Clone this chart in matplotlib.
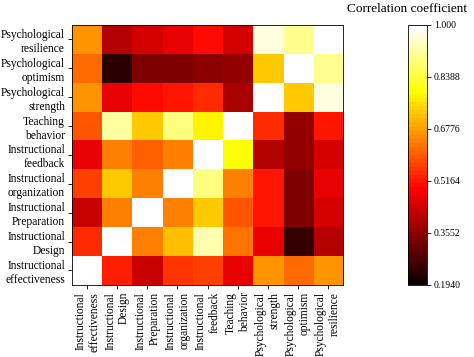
import numpy as np
import matplotlib
matplotlib.use('Agg')
import matplotlib.pyplot as plt

plt.rcParams['font.family'] = ['Liberation Serif', 'DejaVu Serif']

row_labels = ['Psychological\nresilience', 'Psychological\noptimism', 'Psychological\nstrength',
              'Teaching\nbehavior', 'Instructional\nfeedback', 'Instructional\norganization',
              'Instructional\nPreparation', 'Instructional\nDesign', 'Instructional\neffectiveness']
col_labels = ['Instructional\neffectiveness', 'Instructional\nDesign', 'Instructional\nPreparation',
              'Instructional\norganization', 'Instructional\nfeedback', 'Teaching\nbehavior',
              'Psychological\nstrength', 'Psychological\noptimism', 'Psychological\nresilience']

# rows top to bottom, columns left to right
corr = np.array([
    [0.660, 0.400, 0.445, 0.468, 0.505, 0.445, 0.969, 0.908, 1.000],
    [0.610, 0.235, 0.340, 0.340, 0.355, 0.368, 0.734, 1.000, 0.908],
    [0.668, 0.468, 0.498, 0.510, 0.538, 0.390, 1.000, 0.728, 0.969],
    [0.585, 0.918, 0.734, 0.887, 0.785, 1.000, 0.545, 0.368, 0.510],
    [0.460, 0.645, 0.598, 0.645, 1.000, 0.790, 0.408, 0.368, 0.435],
    [0.568, 0.728, 0.645, 1.000, 0.898, 0.645, 0.520, 0.340, 0.460],
    [0.430, 0.645, 1.000, 0.645, 0.734, 0.585, 0.510, 0.340, 0.435],
    [0.538, 1.000, 0.645, 0.719, 0.928, 0.630, 0.460, 0.255, 0.400],
    [1.000, 0.530, 0.430, 0.552, 0.568, 0.460, 0.660, 0.615, 0.660],
])

vmin, vmax = 0.1940, 1.000
cbar_ticks = [0.1940, 0.3552, 0.5164, 0.6776, 0.8388, 1.000]
cbar_ticklabels = ['0.1940', '0.3552', '0.5164', '0.6776', '0.8388', '1.000']

cmap = plt.get_cmap('hot').resampled(64)

fig = plt.figure(figsize=(4.74, 3.57), dpi=100)
ax = fig.add_axes([0.152, 0.202, 0.572, 0.728])
im = ax.imshow(corr, cmap=cmap, vmin=vmin, vmax=vmax, aspect='auto', interpolation='nearest')

ax.set_xticks(range(len(col_labels)))
ax.set_yticks(range(len(row_labels)))
ax.set_xticklabels(col_labels, rotation=90, fontsize=8.3, linespacing=1.2)
ax.set_yticklabels(row_labels, fontsize=8.3, linespacing=1.22)
for t in ax.get_xticklabels() + ax.get_yticklabels():
    t.set_multialignment('right')
ax.tick_params(direction='out', length=3, width=0.6, pad=2, top=False, right=False)
for s in ax.spines.values():
    s.set_linewidth(0.6)

cax = fig.add_axes([0.861, 0.202, 0.040, 0.728])
cb = fig.colorbar(im, cax=cax, ticks=cbar_ticks)
cb.ax.set_yticklabels(cbar_ticklabels, fontsize=7)
cb.ax.tick_params(direction='out', length=3, width=0.6, pad=2)
cb.outline.set_linewidth(0.6)

fig.text(0.859, 0.975, 'Correlation coefficient', fontsize=9.5, ha='center', va='center')

fig.savefig('out.png', dpi=100)
